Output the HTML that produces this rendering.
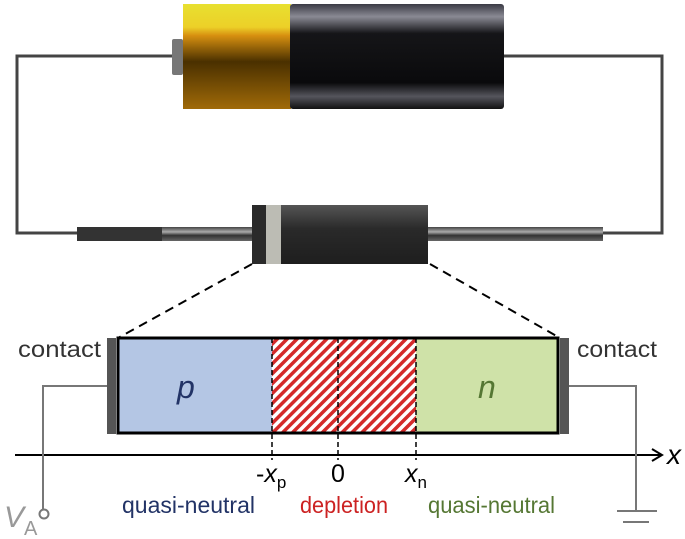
<!DOCTYPE html>
<html><head><style>body{margin:0;background:#fff}svg{display:block}text{font-family:"Liberation Sans",Arial,sans-serif}</style></head><body>
<svg width="685" height="539" viewBox="0 0 685 539" xmlns="http://www.w3.org/2000/svg">
<defs>
<linearGradient id="yel" x1="0" y1="0" x2="0" y2="1">
<stop offset="0" stop-color="#e8e030"/><stop offset="0.22" stop-color="#ecd028"/><stop offset="0.3" stop-color="#d79010"/><stop offset="0.55" stop-color="#4a3000"/><stop offset="1" stop-color="#a06a08"/></linearGradient>
<linearGradient id="blk" x1="0" y1="0" x2="0" y2="1">
<stop offset="0" stop-color="#3a3a44"/><stop offset="0.12" stop-color="#8a8a94"/><stop offset="0.28" stop-color="#151518"/><stop offset="0.75" stop-color="#0a0a0c"/><stop offset="0.88" stop-color="#55555c"/><stop offset="1" stop-color="#111"/></linearGradient>
<linearGradient id="dio" x1="0" y1="0" x2="0" y2="1">
<stop offset="0" stop-color="#555"/><stop offset="0.4" stop-color="#2a2a2a"/><stop offset="1" stop-color="#1e1e1e"/></linearGradient>
<linearGradient id="lead" x1="0" y1="0" x2="0" y2="1">
<stop offset="0" stop-color="#444"/><stop offset="0.35" stop-color="#aaa"/><stop offset="0.6" stop-color="#333"/><stop offset="1" stop-color="#666"/></linearGradient>
<pattern id="hatch" width="7" height="7" patternUnits="userSpaceOnUse" patternTransform="rotate(45)">
<rect width="7" height="7" fill="#fff"/><rect width="3.5" height="7" fill="#d42a2a"/></pattern>
</defs>
<polyline points="173,56 17,56 17,233 80,233" fill="none" stroke="#444" stroke-width="3"/>
<polyline points="504,56 662,56 662,233 600,233" fill="none" stroke="#444" stroke-width="3"/>
<rect x="172" y="39" width="11" height="36" rx="2" fill="#777"/>
<rect x="183" y="4" width="108" height="105" fill="url(#yel)"/>
<rect x="290" y="4" width="214" height="105" rx="3" fill="url(#blk)"/>
<rect x="77" y="227" width="526" height="14" fill="url(#lead)"/>
<rect x="77" y="227" width="85" height="14" fill="#333"/>
<rect x="252" y="205" width="14" height="59" fill="#2a2a2a"/>
<rect x="266" y="205" width="15" height="59" fill="#bcbcb4"/>
<rect x="281" y="205" width="147" height="59" fill="url(#dio)"/>
<line x1="252" y1="264" x2="118" y2="338" stroke="#000" stroke-width="2" stroke-dasharray="9,6"/>
<line x1="430" y1="264" x2="560" y2="338" stroke="#000" stroke-width="2" stroke-dasharray="9,6"/>
<rect x="118" y="338" width="154" height="95" fill="#b4c6e4"/>
<rect x="272" y="338" width="144" height="95" fill="url(#hatch)"/>
<rect x="416" y="338" width="142" height="95" fill="#cfe2a8"/>
<rect x="118" y="338" width="440" height="95" fill="none" stroke="#000" stroke-width="3"/>
<rect x="107" y="338" width="9" height="96" fill="#555"/>
<rect x="560" y="338" width="9" height="96" fill="#555"/>
<g stroke="#000" stroke-width="1.5" stroke-dasharray="5,3">
<line x1="272" y1="338" x2="272" y2="460"/><line x1="338" y1="338" x2="338" y2="460"/><line x1="416" y1="338" x2="416" y2="460"/></g>
<line x1="15" y1="455" x2="662" y2="455" stroke="#000" stroke-width="2"/>
<polyline points="652,449 662,455 652,461" fill="none" stroke="#000" stroke-width="2"/>
<text x="667" y="464" font-size="28" font-style="italic">x</text>
<polyline points="107,386 43,386 43,510" fill="none" stroke="#777" stroke-width="2"/>
<circle cx="44" cy="514" r="4.5" fill="#fff" stroke="#777" stroke-width="2"/>
<polyline points="569,386 636,386 636,511" fill="none" stroke="#777" stroke-width="2"/>
<line x1="617" y1="511" x2="657" y2="511" stroke="#777" stroke-width="2"/>
<line x1="623" y1="522" x2="649" y2="522" stroke="#777" stroke-width="2"/>
<text x="18" y="357" font-size="23" fill="#333" textLength="83" lengthAdjust="spacingAndGlyphs">contact</text>
<text x="577" y="357" font-size="23" fill="#333" textLength="80" lengthAdjust="spacingAndGlyphs">contact</text>
<text x="177" y="398" font-size="32" font-style="italic" fill="#223366">p</text>
<text x="478" y="398" font-size="32" font-style="italic" fill="#557733">n</text>
<text x="256" y="482" font-size="25">-<tspan font-style="italic">x</tspan><tspan font-size="17" dy="6">p</tspan></text>
<text x="331" y="482" font-size="25">0</text>
<text x="405" y="482" font-size="25" font-style="italic">x<tspan font-size="17" dy="6" font-style="normal">n</tspan></text>
<text x="122" y="513" font-size="23" fill="#223366" textLength="133" lengthAdjust="spacingAndGlyphs">quasi-neutral</text>
<text x="300" y="513" font-size="23" fill="#cc2222" textLength="88" lengthAdjust="spacingAndGlyphs">depletion</text>
<text x="428" y="513" font-size="23" fill="#557733" textLength="127" lengthAdjust="spacingAndGlyphs">quasi-neutral</text>
<text x="4" y="527" font-size="30" font-style="italic" fill="#999">V<tspan font-size="20" dy="8" font-style="normal">A</tspan></text>
</svg>
</body></html>
